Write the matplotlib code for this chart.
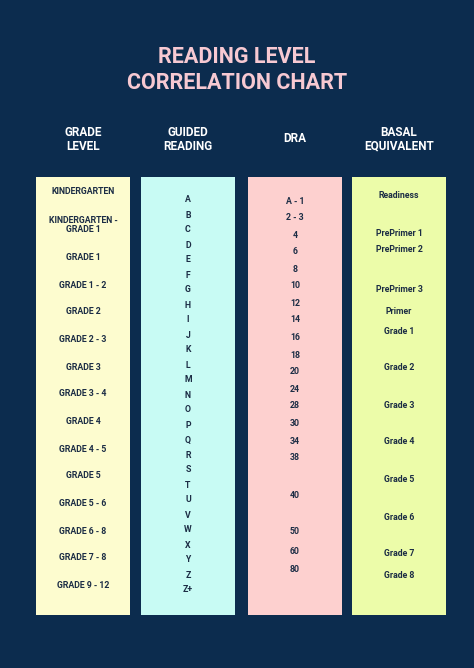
import matplotlib.pyplot as plt
from matplotlib.patches import Rectangle

plt.rcParams['font.family'] = ['Roboto', 'DejaVu Sans']

bg = '#0c2c4e'
ink = '#1c2d45'

# column headers and fills
headers = ['GRADE\nLEVEL', 'GUIDED\nREADING', 'DRA', 'BASAL\nEQUIVALENT']
fills = ['#fdfccf', '#c8fbf4', '#fdd0cf', '#ecfca9']

grades = ['KINDERGARTEN', 'KINDERGARTEN -\nGRADE 1', 'GRADE 1', 'GRADE 1 - 2', 'GRADE 2',
          'GRADE 2 - 3', 'GRADE 3', 'GRADE 3 - 4', 'GRADE 4', 'GRADE 4 - 5', 'GRADE 5',
          'GRADE 5 - 6', 'GRADE 6 - 8', 'GRADE 7 - 8', 'GRADE 9 - 12']
grade_y = [191, 225, 257, 285, 312, 340, 367, 394, 422, 449, 476, 504, 531, 558, 586]

letters = list('ABCDEFGHIJKLMNOPQRSTUVWXYZ') + ['Z+']
letter_y = [200 + 15 * i for i in range(len(letters))]

dra = ['A - 1', '2 - 3', '4', '6', '8', '10', '12', '14', '16', '18', '20', '24', '28',
       '30', '34', '38', '40', '50', '60', '80']
dra_y = [201, 218, 235, 252, 269, 286, 303, 320, 337, 355, 372, 389, 406, 423, 441,
         458, 495, 532, 552, 569]

basal = ['Readiness', 'PrePrimer 1', 'PrePrimer 2', 'PrePrimer 3', 'Primer', 'Grade 1',
         'Grade 2', 'Grade 3', 'Grade 4', 'Grade 5', 'Grade 6', 'Grade 7', 'Grade 8']
basal_y = [196, 233, 250, 290, 311, 331, 368, 406, 442, 480, 517, 554, 575]

col_left = [36, 141, 248, 352]
col_w = 94

fig = plt.figure(figsize=(4.74, 6.68), dpi=100, facecolor=bg)
ax = fig.add_axes([0, 0, 1, 1])
ax.set_xlim(0, 474)
ax.set_ylim(668, 0)
ax.axis('off')
ax.set_facecolor(bg)

ax.text(237, 70, 'READING LEVEL\nCORRELATION CHART', ha='center', va='center',
        color='#f7c9d2', fontsize=15.5, fontweight='bold', linespacing=1.25)

for left, head, fc in zip(col_left, headers, fills):
    ax.add_patch(Rectangle((left, 177), col_w, 438, facecolor=fc, edgecolor='none'))
    ax.text(left + col_w / 2, 139, head, ha='center', va='center', color='white',
            fontsize=8.5, fontweight='bold', linespacing=1.1)

columns = [(grades, grade_y), (letters, letter_y), (dra, dra_y), (basal, basal_y)]
for left, (labels, ys) in zip(col_left, columns):
    for lab, y in zip(labels, ys):
        ax.text(left + col_w / 2, y, lab, ha='center', va='center', color=ink,
                fontsize=6.3, fontweight='bold', linespacing=1.0)

fig.savefig('out.png', dpi=100, facecolor=bg)
